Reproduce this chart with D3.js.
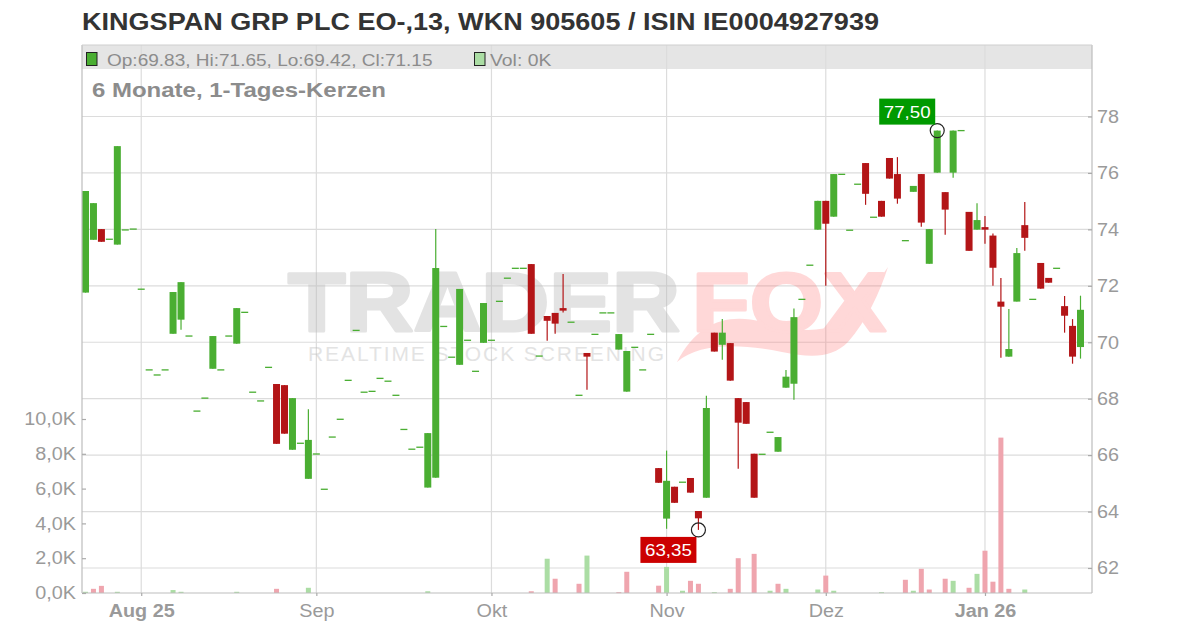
<!DOCTYPE html>
<html><head><meta charset="utf-8">
<script src="https://cdn.jsdelivr.net/npm/d3@7"></script>
<style>
html,body{margin:0;padding:0;background:#fff;}
svg{display:block;font-family:"Liberation Sans",Arial,sans-serif;}
</style></head><body>
<svg id="chart" width="1200" height="628"></svg>
<script>
// ---------- data ----------
const titleText = "KINGSPAN GRP PLC EO-,13, WKN 905605 / ISIN IE0004927939";
const subtitleText = "6 Monate, 1-Tages-Kerzen";
const openP = [71.76,73.63,74.01,73.65,73.46,73.98,74.01,71.88,69.02,68.84,
  69.02,70.30,70.80,70.22,67.56,68.02,69.06,69.02,70.22,69.95,
  71.06,68.23,67.92,69.11,68.52,68.48,66.19,66.42,65.16,66.04,
  64.79,66.64,67.27,68.65,70.42,68.23,68.26,68.72,68.62,68.12,
  66.91,66.21,66.28,64.85,65.20,70.56,69.47,69.20,70.07,68.97,
  69.98,70.07,71.45,72.27,72.62,72.62,72.77,69.51,70.93,71.04,
  71.21,70.71,68.12,69.62,70.28,71.04,71.04,69.74,68.25,69.82,
  69.02,70.28,65.54,63.75,64.88,65.04,65.19,64.02,64.49,70.34,
  69.91,69.97,68.02,67.88,66.05,66.03,66.81,66.12,68.39,68.53,
  71.52,72.73,73.99,75.01,74.45,75.95,73.97,75.60,76.35,74.43,
  75.01,76.53,75.96,73.60,75.33,75.96,72.78,76.01,75.32,76.01,
  77.50,74.62,73.99,74.08,73.78,71.44,69.49,71.44,74.15,71.52,
  72.81,72.28,72.62,71.28,70.58,69.83];
const highP = [75.36,74.93,74.01,73.65,76.95,73.98,74.01,71.88,69.02,68.84,
  69.02,71.78,72.13,70.22,67.56,68.02,70.22,69.02,70.22,71.21,
  71.06,68.23,67.92,69.11,68.52,68.48,68.02,66.42,67.63,66.04,
  64.79,66.64,67.27,68.65,70.42,68.23,68.26,68.72,68.62,68.12,
  66.91,66.21,66.28,66.78,74.01,70.56,69.47,71.89,70.07,68.97,
  71.39,70.07,71.45,72.27,72.62,72.62,72.77,69.51,70.93,71.04,
  72.42,70.71,68.12,69.62,70.28,71.04,71.04,70.29,69.69,69.82,
  69.02,70.28,65.54,66.16,64.88,65.04,65.19,64.02,68.10,70.34,
  70.82,69.97,68.02,67.88,66.05,66.03,66.81,66.64,69.02,71.20,
  71.52,72.73,75.01,75.01,75.96,75.95,73.97,75.60,76.35,74.43,
  75.01,76.53,76.56,73.60,75.54,75.96,74.01,77.50,75.32,77.50,
  77.50,74.62,74.93,74.47,73.85,72.28,71.18,73.34,74.97,71.52,
  72.81,72.28,72.62,71.64,70.82,71.65];
const lowP = [71.76,73.63,73.56,73.65,73.46,73.98,74.01,71.88,69.02,68.84,
  69.02,70.30,70.44,70.22,67.56,68.02,69.06,69.02,70.22,69.95,
  71.06,68.23,67.92,69.11,66.40,66.76,66.19,66.42,65.16,66.04,
  64.79,66.64,67.27,68.65,70.42,68.23,68.26,68.72,68.62,68.12,
  66.91,66.21,66.28,64.85,65.20,70.56,69.47,69.20,70.07,68.97,
  69.98,70.07,71.45,72.27,72.62,72.62,70.30,69.51,70.05,70.30,
  71.05,70.71,68.12,68.32,70.28,71.04,71.04,69.74,68.25,69.82,
  69.02,70.28,65.02,63.39,64.31,65.04,64.67,63.35,64.49,69.67,
  69.38,68.64,65.52,67.11,64.49,66.03,66.81,66.12,68.39,67.96,
  71.52,72.73,73.99,72.00,74.45,75.95,73.97,75.60,74.87,74.43,
  74.45,75.80,74.91,73.60,75.33,74.09,72.78,76.01,73.81,75.83,
  77.50,73.24,73.99,73.49,72.00,69.45,69.49,71.44,73.24,71.52,
  71.90,72.11,72.62,70.34,69.24,69.42];
const closeP = [75.36,74.93,73.56,73.65,76.95,73.98,74.01,71.88,69.02,68.84,
  69.02,71.78,72.13,70.22,67.56,68.02,70.22,69.02,70.22,71.21,
  71.06,68.23,67.92,69.11,66.40,66.76,68.02,66.42,66.54,66.04,
  64.79,66.64,67.27,68.65,70.42,68.23,68.26,68.72,68.62,68.12,
  66.91,66.21,66.28,66.78,72.63,70.56,69.47,71.89,70.07,68.97,
  71.39,70.07,71.45,72.27,72.62,72.62,70.30,69.51,70.76,70.66,
  71.12,70.71,68.12,69.49,70.28,71.04,71.04,70.29,69.69,69.82,
  69.02,70.28,65.02,65.09,64.31,65.04,64.67,63.76,67.67,69.67,
  70.34,68.64,67.15,67.11,64.49,66.03,66.81,66.64,68.78,70.89,
  71.52,72.73,75.01,74.20,75.96,75.95,73.97,75.60,75.26,74.43,
  74.45,75.80,75.09,73.60,75.54,74.24,74.01,77.50,74.70,77.50,
  77.50,73.24,74.33,73.99,72.64,71.26,69.76,73.16,73.70,71.52,
  71.90,72.11,72.62,70.94,69.49,71.15];
// volume in thousands
const volumeK = [0.07,0.24,0.41,0,0.07,0,0,0,0,0,
  0,0.17,0.07,0,0,0,0,0,0,0.07,
  0,0,0,0,0.24,0,0,0,0.30,0,
  0,0,0,0,0,0,0,0,0,0,
  0,0,0,0.10,0,0,0,0,0,0,
  0,0,0,0,0,0,0.10,0,1.97,0.82,
  0,0,0.53,2.15,0,0,0,0.05,1.22,0,
  0,0,0.42,1.50,0,0.13,0.70,0.53,0,0.05,
  0,0.24,2.00,0,2.25,0,0.13,0.53,0.24,0,
  0,0,0.20,1.00,0.13,0,0,0,0,0,
  0.05,0,0,0.76,0.13,1.39,0.20,0,0.82,0.70,
  0,0.30,1.10,2.43,0.65,8.93,0.24,0,0.20,0,
  0,0,0,0,0,0];
const priceTicks = [62,64,66,68,70,72,74,76,78];
const volumeTicks = [0,2,4,6,8,10];
const monthTickIndex = [7,29,51,73,93,113];
const monthLabels = ["Aug 25","Sep","Okt","Nov","Dez","Jan 26"];
const monthBold = [true,false,false,false,false,true];

// ---------- setup ----------
const svg = d3.select("#chart");
const L = 82, R = 1092, T = 45, B = 593, bandB = 69;
const n = closeP.length;
const x = d3.scaleLinear().domain([0, n - 1]).range([85.5, 1080.5]);
const y = d3.scaleLinear().domain([62, 78]).range([568, 116.5]);
const yv = d3.scaleLinear().domain([0, 10]).range([B, 419]);
const GREEN = "#4aae32", RED = "#b31517", VGREEN = "#abdda4", VRED = "#efa5ae";
const comma = v => d3.format(".2f")(v).replace(".", ",");
function stretch(sel, f) {
  sel.each(function () {
    const w = this.getComputedTextLength();
    this.setAttribute("textLength", w * f);
    this.setAttribute("lengthAdjust", "spacingAndGlyphs");
  });
}

// legend band
svg.append("rect").attr("x", L).attr("y", T).attr("width", R - L).attr("height", bandB - T).attr("fill", "#e5e5e5");

// grid
svg.append("g").selectAll("line").data(priceTicks).join("line")
  .attr("x1", L).attr("x2", R).attr("y1", d => y(d)).attr("y2", d => y(d))
  .attr("stroke", "#dcdcdc").attr("stroke-width", 1.2);
svg.append("g").selectAll("line").data(monthTickIndex).join("line")
  .attr("x1", d => x(d)).attr("x2", d => x(d)).attr("y1", T).attr("y2", B)
  .attr("stroke", "#dcdcdc").attr("stroke-width", 1.2);

// watermark
const wm = svg.append("g");
wm.append("text").attr("x", 288).attr("y", 331).attr("font-size", 84).attr("font-weight", "bold")
  .attr("fill", "#bbb").attr("stroke", "#bbb").attr("stroke-width", 3).attr("stroke-linejoin", "round")
  .attr("opacity", 0.4).attr("textLength", 392).attr("lengthAdjust", "spacingAndGlyphs").text("TRADER");
const fox = wm.append("g").attr("opacity", 0.25);
fox.append("path")
  .attr("d", "M677,362 C700,342 742,344 782,352 C812,358 832,358 848,342 C866,322 880,292 888,267 " +
             "C872,290 858,312 838,324 C816,334 790,330 762,322 C728,313 698,322 677,362 Z")
  .attr("fill", "#f66");
fox.append("text").attr("x", 692).attr("y", 331).attr("font-size", 84).attr("font-weight", "bold")
  .attr("fill", "#f66").attr("stroke", "#f66").attr("stroke-width", 3).attr("stroke-linejoin", "round")
  .attr("textLength", 194).attr("lengthAdjust", "spacingAndGlyphs").text("FOX");
wm.append("text").attr("x", 308).attr("y", 361).attr("font-size", 21)
  .attr("fill", "#bbb").attr("opacity", 0.4).attr("textLength", 356).attr("lengthAdjust", "spacing")
  .text("REALTIME STOCK SCREENING");

// volume bars
const idx = d3.range(n);
svg.append("g").selectAll("rect").data(idx.filter(i => volumeK[i] > 0)).join("rect")
  .attr("x", i => x(i) - 2.5).attr("width", 5)
  .attr("y", i => yv(volumeK[i])).attr("height", i => Math.max(1, B - yv(volumeK[i])))
  .attr("fill", i => (i === 0 || closeP[i] >= closeP[i - 1]) ? VGREEN : VRED);

// candles
const cg = svg.append("g");
const col = i => closeP[i] >= openP[i] ? GREEN : RED;
cg.selectAll("line").data(idx.filter(i => highP[i] > lowP[i])).join("line")
  .attr("x1", i => x(i)).attr("x2", i => x(i))
  .attr("y1", i => y(highP[i])).attr("y2", i => y(lowP[i]))
  .attr("stroke", col).attr("stroke-width", 1.2);
cg.selectAll("rect").data(idx).join("rect")
  .attr("x", i => x(i) - 3.5).attr("width", 7)
  .attr("y", i => { const t = y(Math.max(openP[i], closeP[i])); const h = Math.abs(y(openP[i]) - y(closeP[i])); return h < 1.3 ? t - 0.65 : t; })
  .attr("height", i => Math.max(1.3, Math.abs(y(openP[i]) - y(closeP[i]))))
  .attr("fill", col);

// frame
const fr = svg.append("g").attr("stroke", "#bdbdbd").attr("stroke-width", 1.2);
fr.append("line").attr("x1", L).attr("x2", L).attr("y1", T).attr("y2", B);
fr.append("line").attr("x1", R).attr("x2", R).attr("y1", T).attr("y2", B);
fr.append("line").attr("x1", L).attr("x2", R).attr("y1", B).attr("y2", B);
fr.append("line").attr("x1", L).attr("x2", R).attr("y1", T).attr("y2", T).attr("stroke", "#cfcfcf");

// axes
const axisStyle = g => {
  g.select(".domain").remove();
  g.selectAll(".tick line").attr("stroke", "#aaa").attr("stroke-width", 1.2);
  g.selectAll("text").attr("fill", "#9a9a9a").attr("font-size", 18).attr("font-family", "Liberation Sans, Arial, sans-serif");
};
const ar = svg.append("g").attr("transform", `translate(${R},0)`)
  .call(d3.axisRight(y).tickValues(priceTicks).tickSize(-4).tickPadding(5).tickFormat(d3.format("d")))
  .call(axisStyle);
stretch(ar.selectAll("text"), 1.1);
const al = svg.append("g").attr("transform", `translate(${L},0)`)
  .call(d3.axisLeft(yv).tickValues(volumeTicks).tickSize(-4).tickPadding(6)
    .tickFormat(d => d3.format(".1f")(d).replace(".", ",") + "K"))
  .call(axisStyle);
stretch(al.selectAll("text"), 1.1);
const ab = svg.append("g").attr("transform", `translate(0,${B})`)
  .call(d3.axisBottom(x).tickValues(monthTickIndex).tickSize(3).tickPadding(5)
    .tickFormat((d, k) => monthLabels[k]))
  .call(axisStyle);
ab.selectAll("text").attr("font-weight", (d, k) => monthBold[k] ? "bold" : "normal").attr("dy", "0.9em");
stretch(ab.selectAll("text"), 1.1);

// high / low annotations
const iMax = d3.maxIndex(highP), iMin = d3.minIndex(lowP);
const ann = svg.append("g");
function annot(i, v, fill, dir) {
  const px = x(i), py = y(v);
  ann.append("circle").attr("cx", px).attr("cy", py).attr("r", 7)
    .attr("fill", "none").attr("stroke", "#222").attr("stroke-width", 1.2);
  const bx = px - 58, by = dir < 0 ? py - 32 : py + 7;
  ann.append("rect").attr("x", bx).attr("y", by).attr("width", 56).attr("height", 26).attr("fill", fill);
  const t = ann.append("text").attr("x", bx + 28).attr("y", by + 19.5).attr("text-anchor", "middle")
    .attr("font-size", 17).attr("fill", "#fff").text(comma(v));
  stretch(t, 1.1);
}
annot(iMax, highP[iMax], "#009a00", -1);
annot(iMin, lowP[iMin], "#cc0000", 1);

// title / legend / subtitle
svg.append("text").attr("x", 82).attr("y", 30).attr("font-size", 23.3).attr("font-weight", "bold")
  .attr("fill", "#333").attr("textLength", 797).attr("lengthAdjust", "spacingAndGlyphs").text(titleText);
const last = n - 1;
svg.append("rect").attr("x", 86.5).attr("y", 52.5).attr("width", 10.5).attr("height", 13)
  .attr("fill", GREEN).attr("stroke", "#222").attr("stroke-width", 1);
const lt = svg.append("text").attr("x", 107).attr("y", 65.5).attr("font-size", 17.3).attr("fill", "#8c8c8c")
  .text(`Op:${openP[last].toFixed(2)}, Hi:${highP[last].toFixed(2)}, Lo:${lowP[last].toFixed(2)}, Cl:${closeP[last].toFixed(2)}`);
stretch(lt, 1.1);
svg.append("rect").attr("x", 474.5).attr("y", 52.5).attr("width", 10.5).attr("height", 13)
  .attr("fill", VGREEN).attr("stroke", "#222").attr("stroke-width", 1);
const vt = svg.append("text").attr("x", 490).attr("y", 65.5).attr("font-size", 17.3).attr("fill", "#8c8c8c")
  .text(`Vol: ${Math.round(volumeK[last])}K`);
stretch(vt, 1.12);
svg.append("text").attr("x", 92).attr("y", 97).attr("font-size", 20.5).attr("font-weight", "bold")
  .attr("fill", "#8c8c8c").attr("textLength", 294).attr("lengthAdjust", "spacingAndGlyphs").text(subtitleText);
</script>
</body></html>
